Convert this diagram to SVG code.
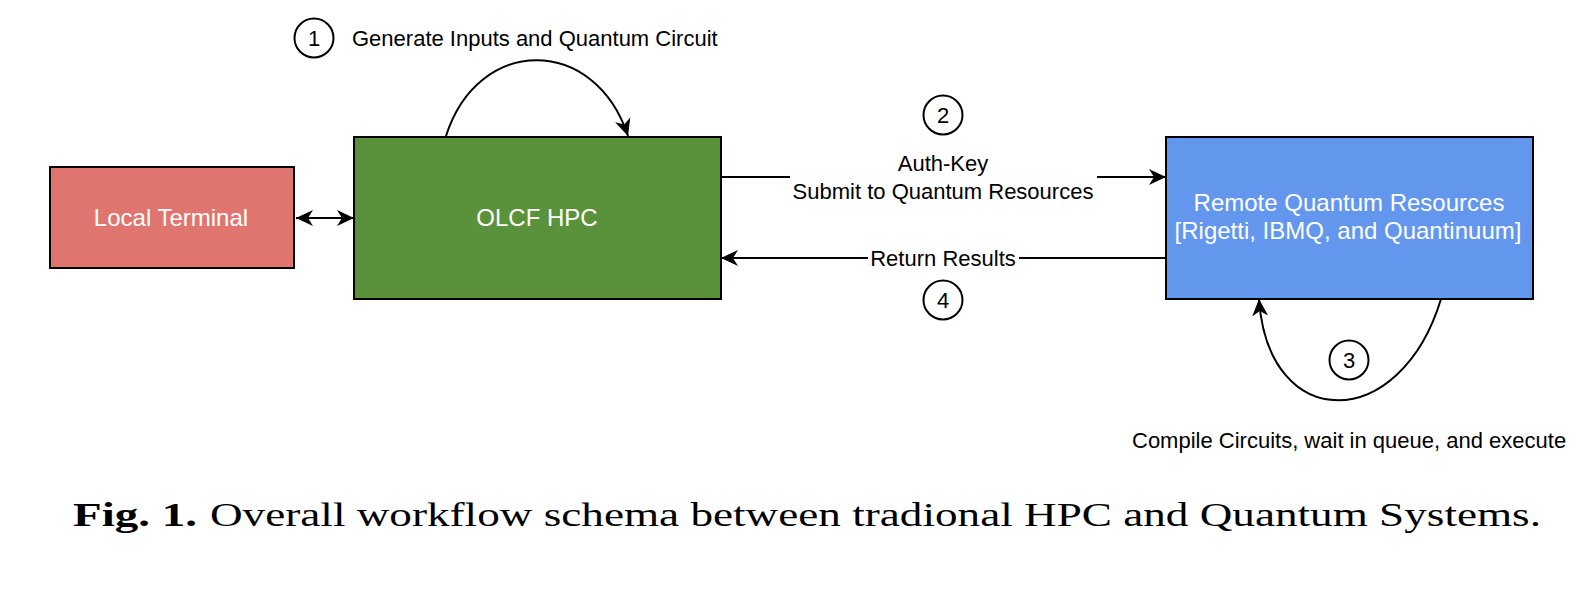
<svg xmlns="http://www.w3.org/2000/svg" width="1596" height="590" viewBox="0 0 1596 590">
<style>
.box{stroke:#000;stroke-width:2}
.nl{font-family:"Liberation Sans",Arial,sans-serif;font-size:24px;fill:#fff;text-anchor:middle}
.el{font-family:"Liberation Sans",Arial,sans-serif;font-size:22px;fill:#000}
.c{text-anchor:middle}
.edge{fill:none;stroke:#000;stroke-width:2}
.num{fill:#fff;stroke:#000;stroke-width:2}
.cap{font-family:"Liberation Serif","Times New Roman",serif;font-size:34px;fill:#000}
</style>
<defs>
<marker id="ah" viewBox="0 0 18 18" refX="17" refY="9" markerWidth="18" markerHeight="18" markerUnits="userSpaceOnUse" orient="auto-start-reverse">
<path d="M0,1 L17,9 L0,17 L5,9 Z" fill="#000"/>
</marker>
</defs>
<rect width="1596" height="590" fill="#fff"/>
<g id="connectors">
<line class="edge" x1="296" y1="218" x2="354" y2="218" marker-start="url(#ah)" marker-end="url(#ah)"/>
<path class="edge" d="M446,136 C478,35 595,35 628,136" marker-end="url(#ah)"/>
<line class="edge" x1="721" y1="177" x2="1166" y2="177" marker-end="url(#ah)"/>
<rect x="790" y="150" width="307" height="56" fill="#fff"/>
<line class="edge" x1="1166" y1="258" x2="721" y2="258" marker-end="url(#ah)"/>
<rect x="868" y="246" width="151" height="24" fill="#fff"/>
<path class="edge" d="M1441,299 C1400,434 1268,434 1259,299" marker-end="url(#ah)"/>
<text class="el c" x="943" y="171">Auth-Key</text>
<text class="el c" x="943" y="199">Submit to Quantum Resources</text>
<text class="el c" x="943" y="266">Return Results</text>
<text class="el" x="352" y="46">Generate Inputs and Quantum Circuit</text>
<text class="el" x="1132" y="448">Compile Circuits, wait in queue, and execute</text>
</g>
<g id="step1"><circle class="num" cx="314" cy="38" r="19.5"/><text class="el c" x="314" y="46">1</text></g>
<g id="step2"><circle class="num" cx="943" cy="115" r="19.5"/><text class="el c" x="943" y="123">2</text></g>
<g id="step3"><circle class="num" cx="1349" cy="360" r="19.5"/><text class="el c" x="1349" y="368">3</text></g>
<g id="step4"><circle class="num" cx="943" cy="300" r="19.5"/><text class="el c" x="943" y="308">4</text></g>
<g id="local-terminal">
<rect class="box" x="50" y="167" width="244" height="101" fill="#E0756F"/>
<text class="nl" x="171" y="226">Local Terminal</text>
</g>
<g id="olcf-hpc">
<rect class="box" x="354" y="137" width="367" height="162" fill="#5A923B"/>
<text class="nl" x="537" y="226">OLCF HPC</text>
</g>
<g id="remote-quantum">
<rect class="box" x="1166" y="137" width="367" height="162" fill="#6397EE"/>
<text class="nl" x="1349" y="211">Remote Quantum Resources</text>
<text class="nl" x="1348" y="239">[Rigetti, IBMQ, and Quantinuum]</text>
</g>
<g id="caption">
<text class="cap" x="73" y="526" font-weight="bold" textLength="124" lengthAdjust="spacingAndGlyphs">Fig. 1.</text>
<text class="cap" x="210" y="526" textLength="1331" lengthAdjust="spacingAndGlyphs">Overall workflow schema between tradional HPC and Quantum Systems.</text>
</g>
</svg>
